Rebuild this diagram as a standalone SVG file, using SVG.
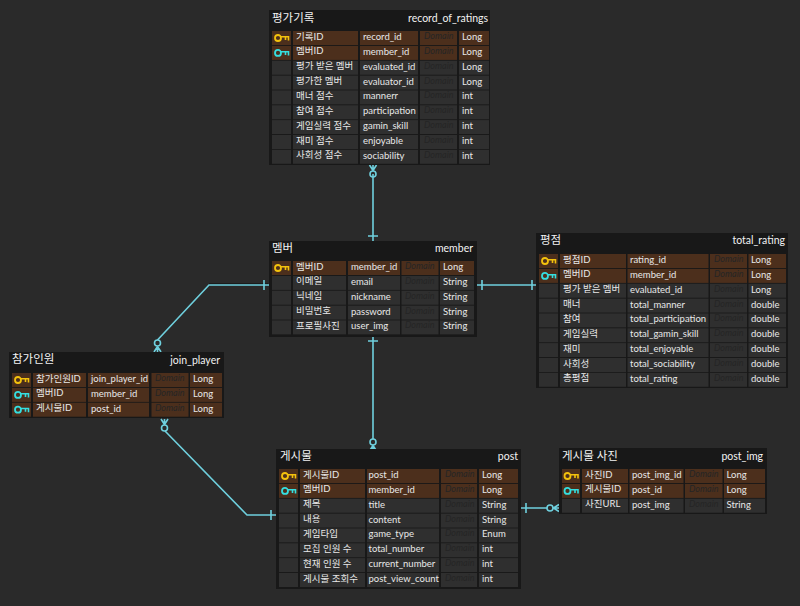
<svg xmlns="http://www.w3.org/2000/svg" width="800" height="606" viewBox="0 0 800 606">
<style>
text{font-family:"Lato","Noto Sans CJK KR",sans-serif;font-size:9.5px;fill:#e8e8e8}
.t{font-size:11.5px;fill:#f2f2f2}
.e{text-anchor:end}
.d{fill:#252525;font-style:italic;font-size:9px}
.tb{fill:#181818}
.c{fill:#2f2f2f}
.p{fill:#4c2f1c}
.l{fill:none;stroke:#6fd0de;stroke-width:1.6}
.s{fill:none;stroke:#0c0c0c;stroke-width:1}
.pk{color:#f4c20d}
.fk{color:#35dfe0}
</style>
<defs>
<g id="key" fill="none" stroke="currentColor"><circle cx="-3" cy="0" r="3" stroke-width="1.8"/><path d="M-0.500 -1.200H7.500V2.500M4.500 -1.200V2" stroke-width="1.600"/></g>
<g id="cf" class="l"><circle cx="0" cy="0" r="3"/><path d="M0 3V9M0 3.500L-3.500 9M0 3.500L3.500 9"/></g>
<g id="c1"><rect x="272" width="19" height="14"/><rect x="293" width="65" height="14"/><rect x="360" width="58" height="14"/><rect x="420" width="37" height="14"/><rect x="459" width="30" height="14"/></g>
<g id="c2"><rect x="272" width="19" height="14"/><rect x="293" width="53" height="14"/><rect x="348" width="52" height="14"/><rect x="401.500" width="37" height="14"/><rect x="440" width="34" height="14"/></g>
<g id="c3"><rect x="539" width="19" height="14"/><rect x="560" width="66" height="14"/><rect x="627.500" width="81" height="14"/><rect x="710" width="37" height="14"/><rect x="748.500" width="37.500" height="14"/></g>
<g id="c4"><rect x="12" width="19" height="14"/><rect x="33" width="53" height="14"/><rect x="88" width="61" height="14"/><rect x="151.500" width="37" height="14"/><rect x="190" width="32" height="14"/></g>
<g id="c5"><rect x="279" width="19" height="14"/><rect x="300" width="65" height="14"/><rect x="367" width="72" height="14"/><rect x="441" width="36" height="14"/><rect x="479" width="39" height="14"/></g>
<g id="c6"><rect x="562" width="18" height="14"/><rect x="582" width="46" height="14"/><rect x="629.500" width="54" height="14"/><rect x="685" width="37.500" height="14"/><rect x="724" width="41" height="14"/></g>
</defs>
<rect width="800" height="606" fill="#2a2a2a"/>
<g id="connectors">
<path class="s" d="M209 284H268"/>
<path class="l" d="M373 174V241M368 236H378"/>
<use href="#cf" transform="translate(373,174) rotate(180)"/>
<path class="l" d="M269 285H209L157.500 340M264 280V290"/>
<use href="#cf" transform="translate(157.500,343)"/>
<path class="l" d="M477 285H537M482 280V290M532 280V290"/>
<path class="l" d="M373 337V439M368 341H378"/>
<use href="#cf" transform="translate(373,442)"/>
<path class="l" d="M165 431L247 515H276M271 510V520"/>
<use href="#cf" transform="translate(164.500,428) rotate(180)"/>
<path class="l" d="M521 508H547M526 503V513"/>
<use href="#cf" transform="translate(550,508) rotate(-90)"/>
</g>
<g id="record_of_ratings">
<rect class="tb" x="269" y="10" width="221" height="155"/>
<text class="t" x="272" y="22">평가기록</text><text class="t e" x="488" y="22" style="font-size:10.500px">record_of_ratings</text>
<g transform="translate(0,31)"><use href="#c1" class="p"/><use href="#key" class="pk" x="281" y="7"/><text x="296" y="8.500">기록ID</text><text x="363" y="9">record_id</text><text class="d" x="424" y="8">Domain</text><text x="462" y="9">Long</text></g>
<g transform="translate(0,45.900)"><use href="#c1" class="p"/><use href="#key" class="fk" x="281" y="7"/><text x="296" y="8.500">멤버ID</text><text x="363" y="9">member_id</text><text class="d" x="424" y="8">Domain</text><text x="462" y="9">Long</text></g>
<g transform="translate(0,60.700)"><use href="#c1" class="c"/><text x="296" y="8.500">평가 받은 멤버</text><text x="363" y="9">evaluated_id</text><text class="d" x="424" y="8">Domain</text><text x="462" y="9">Long</text></g>
<g transform="translate(0,75.600)"><use href="#c1" class="c"/><text x="296" y="8.500">평가한 멤버</text><text x="363" y="9">evaluator_id</text><text class="d" x="424" y="8">Domain</text><text x="462" y="9">Long</text></g>
<g transform="translate(0,90.400)"><use href="#c1" class="c"/><text x="296" y="8.500">매너 점수</text><text x="363" y="9">mannerr</text><text class="d" x="424" y="8">Domain</text><text x="462" y="9">int</text></g>
<g transform="translate(0,105.300)"><use href="#c1" class="c"/><text x="296" y="8.500">참여 점수</text><text x="363" y="9">participation</text><text class="d" x="424" y="8">Domain</text><text x="462" y="9">int</text></g>
<g transform="translate(0,120.100)"><use href="#c1" class="c"/><text x="296" y="8.500">게임실력 점수</text><text x="363" y="9">gamin_skill</text><text class="d" x="424" y="8">Domain</text><text x="462" y="9">int</text></g>
<g transform="translate(0,135)"><use href="#c1" class="c"/><text x="296" y="8.500">재미 점수</text><text x="363" y="9">enjoyable</text><text class="d" x="424" y="8">Domain</text><text x="462" y="9">int</text></g>
<g transform="translate(0,149.800)"><use href="#c1" class="c"/><text x="296" y="8.500">사회성 점수</text><text x="363" y="9">sociability</text><text class="d" x="424" y="8">Domain</text><text x="462" y="9">int</text></g>
</g>
<g id="member">
<rect class="tb" x="269" y="241" width="208" height="96"/>
<text class="t" x="272" y="252">멤버</text><text class="t e" x="473" y="252" style="font-size:10.500px">member</text>
<g transform="translate(0,261)"><use href="#c2" class="p"/><use href="#key" class="pk" x="281" y="7"/><text x="296" y="8.500">멤버ID</text><text x="351" y="9">member_id</text><text class="d" x="405" y="8">Domain</text><text x="443" y="9">Long</text></g>
<g transform="translate(0,275.900)"><use href="#c2" class="c"/><text x="296" y="8.500">이메일</text><text x="351" y="9">email</text><text class="d" x="405" y="8">Domain</text><text x="443" y="9">String</text></g>
<g transform="translate(0,290.700)"><use href="#c2" class="c"/><text x="296" y="8.500">닉네임</text><text x="351" y="9">nickname</text><text class="d" x="405" y="8">Domain</text><text x="443" y="9">String</text></g>
<g transform="translate(0,305.600)"><use href="#c2" class="c"/><text x="296" y="8.500">비밀번호</text><text x="351" y="9">password</text><text class="d" x="405" y="8">Domain</text><text x="443" y="9">String</text></g>
<g transform="translate(0,320.400)"><use href="#c2" class="c"/><text x="296" y="8.500">프로필사진</text><text x="351" y="9">user_img</text><text class="d" x="405" y="8">Domain</text><text x="443" y="9">String</text></g>
</g>
<g id="total_rating">
<rect class="tb" x="536" y="233" width="252" height="155"/>
<text class="t" x="540" y="244">평점</text><text class="t e" x="785" y="244" style="font-size:10.500px">total_rating</text>
<g transform="translate(0,254)"><use href="#c3" class="p"/><use href="#key" class="pk" x="548" y="7"/><text x="563" y="8.500">평점ID</text><text x="630" y="9">rating_id</text><text class="d" x="714" y="8">Domain</text><text x="751" y="9">Long</text></g>
<g transform="translate(0,268.900)"><use href="#c3" class="p"/><use href="#key" class="fk" x="548" y="7"/><text x="563" y="8.500">멤버ID</text><text x="630" y="9">member_id</text><text class="d" x="714" y="8">Domain</text><text x="751" y="9">Long</text></g>
<g transform="translate(0,283.700)"><use href="#c3" class="c"/><text x="563" y="8.500">평가 받은 멤버</text><text x="630" y="9">evaluated_id</text><text class="d" x="714" y="8">Domain</text><text x="751" y="9">Long</text></g>
<g transform="translate(0,298.600)"><use href="#c3" class="c"/><text x="563" y="8.500">매너</text><text x="630" y="9">total_manner</text><text class="d" x="714" y="8">Domain</text><text x="751" y="9">double</text></g>
<g transform="translate(0,313.400)"><use href="#c3" class="c"/><text x="563" y="8.500">참여</text><text x="630" y="9">total_participation</text><text class="d" x="714" y="8">Domain</text><text x="751" y="9">double</text></g>
<g transform="translate(0,328.300)"><use href="#c3" class="c"/><text x="563" y="8.500">게임실력</text><text x="630" y="9">total_gamin_skill</text><text class="d" x="714" y="8">Domain</text><text x="751" y="9">double</text></g>
<g transform="translate(0,343.100)"><use href="#c3" class="c"/><text x="563" y="8.500">재미</text><text x="630" y="9">total_enjoyable</text><text class="d" x="714" y="8">Domain</text><text x="751" y="9">double</text></g>
<g transform="translate(0,358)"><use href="#c3" class="c"/><text x="563" y="8.500">사회성</text><text x="630" y="9">total_sociability</text><text class="d" x="714" y="8">Domain</text><text x="751" y="9">double</text></g>
<g transform="translate(0,372.800)"><use href="#c3" class="c"/><text x="563" y="8.500">총평점</text><text x="630" y="9">total_rating</text><text class="d" x="714" y="8">Domain</text><text x="751" y="9">double</text></g>
</g>
<g id="join_player">
<rect class="tb" x="9" y="352" width="215" height="66"/>
<text class="t" x="12" y="363">참가인원</text><text class="t e" x="220" y="364" style="font-size:10.500px">join_player</text>
<g transform="translate(0,373)"><use href="#c4" class="p"/><use href="#key" class="pk" x="21" y="7"/><text x="36" y="8.500">참가인원ID</text><text x="91" y="9">join_player_id</text><text class="d" x="155" y="8">Domain</text><text x="193" y="9">Long</text></g>
<g transform="translate(0,387.900)"><use href="#c4" class="p"/><use href="#key" class="fk" x="21" y="7"/><text x="36" y="8.500">멤버ID</text><text x="91" y="9">member_id</text><text class="d" x="155" y="8">Domain</text><text x="193" y="9">Long</text></g>
<g transform="translate(0,402.700)"><use href="#c4" class="p"/><use href="#key" class="fk" x="21" y="7"/><text x="36" y="8.500">게시물ID</text><text x="91" y="9">post_id</text><text class="d" x="155" y="8">Domain</text><text x="193" y="9">Long</text></g>
</g>
<g id="post">
<rect class="tb" x="276" y="449" width="245" height="140"/>
<text class="t" x="280" y="460">게시물</text><text class="t e" x="518" y="460" style="font-size:10.500px">post</text>
<g transform="translate(0,469)"><use href="#c5" class="p"/><use href="#key" class="pk" x="288" y="7"/><text x="303" y="8.500">게시물ID</text><text x="368.500" y="9">post_id</text><text class="d" x="445" y="8">Domain</text><text x="482" y="9">Long</text></g>
<g transform="translate(0,483.900)"><use href="#c5" class="p"/><use href="#key" class="fk" x="288" y="7"/><text x="303" y="8.500">멤버ID</text><text x="368.500" y="9">member_id</text><text class="d" x="445" y="8">Domain</text><text x="482" y="9">Long</text></g>
<g transform="translate(0,498.700)"><use href="#c5" class="c"/><text x="303" y="8.500">제목</text><text x="368.500" y="9">title</text><text class="d" x="445" y="8">Domain</text><text x="482" y="9">String</text></g>
<g transform="translate(0,513.600)"><use href="#c5" class="c"/><text x="303" y="8.500">내용</text><text x="368.500" y="9">content</text><text class="d" x="445" y="8">Domain</text><text x="482" y="9">String</text></g>
<g transform="translate(0,528.400)"><use href="#c5" class="c"/><text x="303" y="8.500">게임타입</text><text x="368.500" y="9">game_type</text><text class="d" x="445" y="8">Domain</text><text x="482" y="9">Enum</text></g>
<g transform="translate(0,543.300)"><use href="#c5" class="c"/><text x="303" y="8.500">모집 인원 수</text><text x="368.500" y="9">total_number</text><text class="d" x="445" y="8">Domain</text><text x="482" y="9">int</text></g>
<g transform="translate(0,558.100)"><use href="#c5" class="c"/><text x="303" y="8.500">현재 인원 수</text><text x="368.500" y="9">current_number</text><text class="d" x="445" y="8">Domain</text><text x="482" y="9">int</text></g>
<g transform="translate(0,573)"><use href="#c5" class="c"/><text x="303" y="8.500">게시물 조회수</text><text x="368.500" y="9">post_view_count</text><text class="d" x="445" y="8">Domain</text><text x="482" y="9">int</text></g>
</g>
<g id="post_img">
<rect class="tb" x="559" y="448" width="208" height="66"/>
<text class="t" x="562" y="460">게시물 사진</text><text class="t e" x="763" y="460" style="font-size:10.500px">post_img</text>
<g transform="translate(0,469)"><use href="#c6" class="p"/><use href="#key" class="pk" x="570.500" y="7"/><text x="585" y="8.500">사진ID</text><text x="632" y="9">post_img_id</text><text class="d" x="689" y="8">Domain</text><text x="726.500" y="9">Long</text></g>
<g transform="translate(0,483.900)"><use href="#c6" class="p"/><use href="#key" class="fk" x="570.500" y="7"/><text x="585" y="8.500">게시물ID</text><text x="632" y="9">post_id</text><text class="d" x="689" y="8">Domain</text><text x="726.500" y="9">Long</text></g>
<g transform="translate(0,498.700)"><use href="#c6" class="c"/><text x="585" y="8.500">사진URL</text><text x="632" y="9">post_img</text><text class="d" x="689" y="8">Domain</text><text x="726.500" y="9">String</text></g>
</g>
</svg>
